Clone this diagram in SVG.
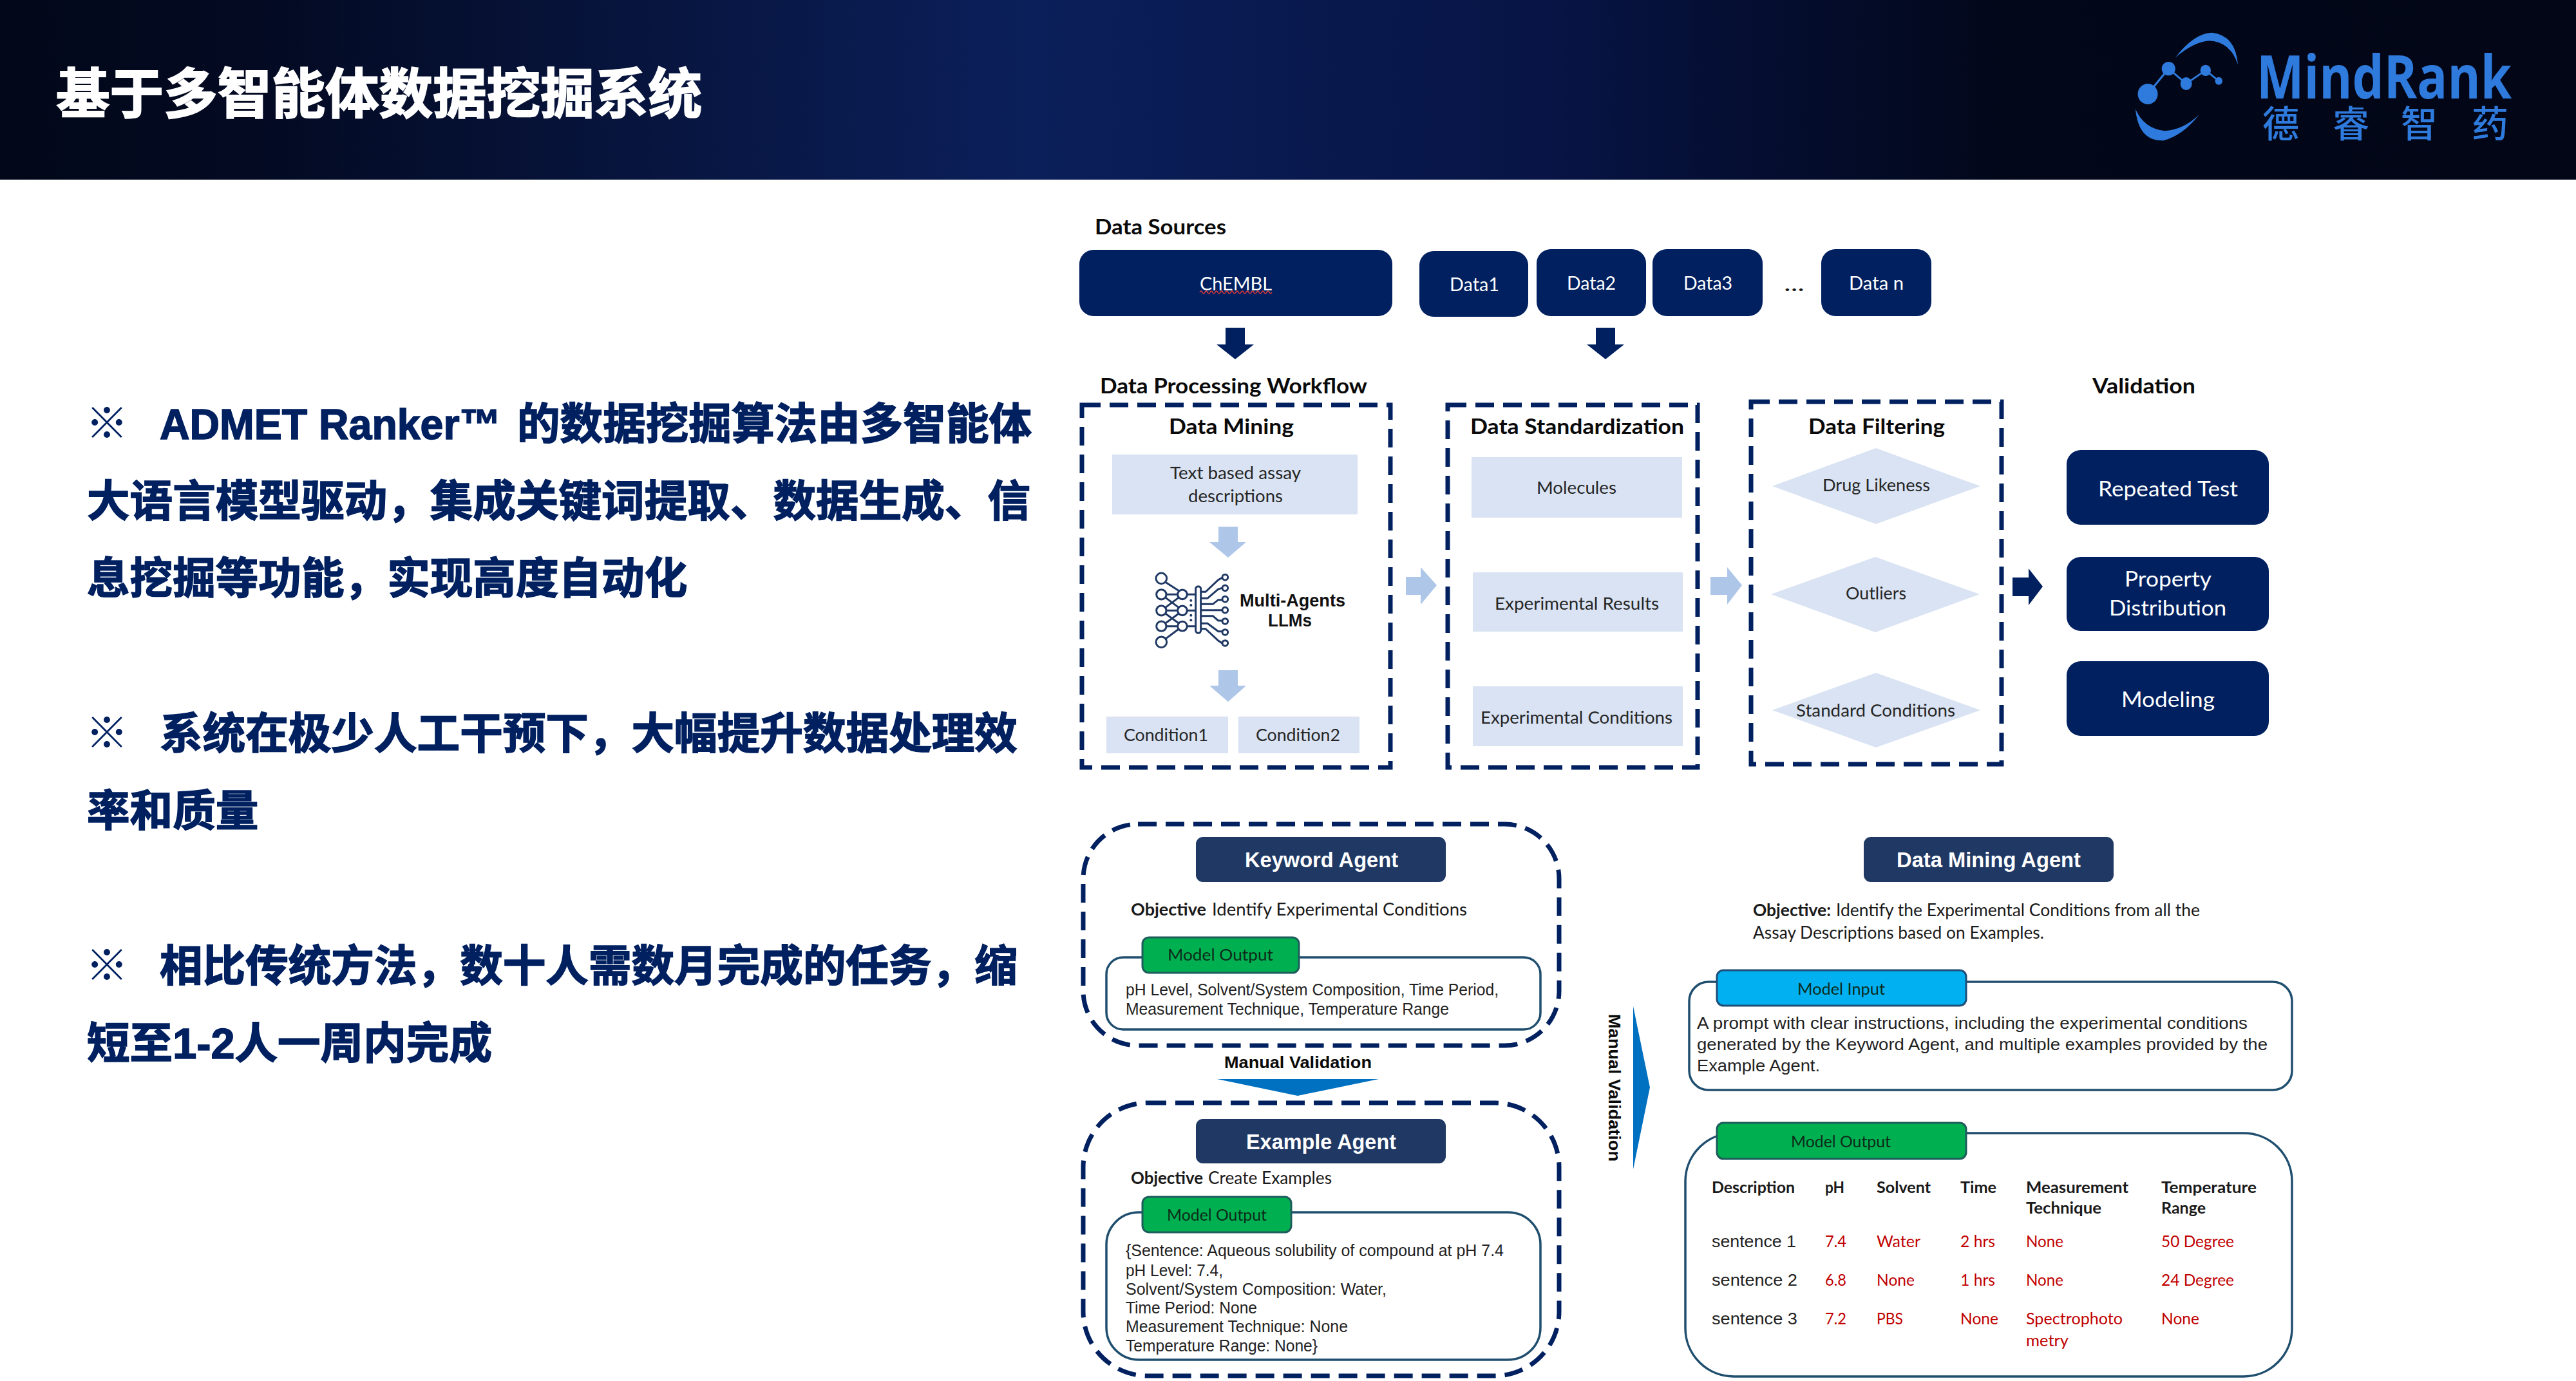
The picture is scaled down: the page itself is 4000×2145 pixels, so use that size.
<svg xmlns="http://www.w3.org/2000/svg" width="4000" height="2145" viewBox="0 0 4000 2145">
<defs>
<linearGradient id="hdr" x1="0" y1="0" x2="1" y2="0">
<stop offset="0" stop-color="#020819"/><stop offset="0.1" stop-color="#030a22"/><stop offset="0.4" stop-color="#0b1f5a"/><stop offset="0.6" stop-color="#071445"/><stop offset="0.78" stop-color="#020719"/><stop offset="1" stop-color="#020617"/>
</linearGradient>
<style>
text{white-space:pre}
.la{font-family:"Lato","Liberation Sans",sans-serif}
.ar{font-family:"Liberation Sans",sans-serif}
.cjk{font-family:"Liberation Sans","Noto Sans CJK SC",sans-serif}
.b{font-weight:700}
.hd{font-size:32px;font-weight:700;fill:#0a0a0a}
.lab{font-size:26.5px;fill:#262626}
.wh{font-size:28px;fill:#fff}
.wh2{font-size:32px;fill:#fff}
.navy{fill:#002060}
.light{fill:#D9E3F3}
.larrow{fill:#AEC6E8}
.darrow{fill:#002060}
.blue{fill:#0070C0}
.dash{fill:none;stroke:#002060;stroke-width:7;stroke-dasharray:29 14}
.agent{fill:#1F3864}
.agt{font-size:32.5px;font-weight:700;fill:#fff}
.obj{font-size:26px;fill:#1a1a1a}
.green{fill:#00B050;stroke:#1F5C5C;stroke-width:3}
.cyan{fill:#00B0F0;stroke:#1F4E79;stroke-width:3}
.mo{font-size:25px;fill:#0d2b1a}
.panel{fill:#fff;stroke:#1F4E6E;stroke-width:3.5}
.body{font-size:25px;fill:#222}
.th{font-size:24px;font-weight:700;fill:#1a1a1a}
.td{font-size:25px;fill:#222}
.red{font-size:25px;fill:#C00000}
.main{font-size:66.6px;font-weight:700;fill:#002060;stroke:#002060;stroke-width:1.6}
.mark{font-size:66px;fill:#002060;font-family:"Noto Sans CJK SC",sans-serif}
.logo{fill:#2F7BDD}
.ic{fill:none;stroke:#1F3864;stroke-width:9}
</style>
</defs>
<rect width="4000" height="2145" fill="#fff"/>
<g id="header">
<rect width="4000" height="279" fill="url(#hdr)"/>
<text class="cjk" x="87" y="176" font-size="83.6" font-weight="700" fill="#fff" stroke="#fff" stroke-width="2">基于多智能体数据挖掘系统</text>
</g>
<g id="logo">
<g transform="translate(3280,30) scale(0.408,0.3333)">
<path class="logo" d="M240,178 Q310,65 380,62 Q470,75 478,212 Q450,105 370,100 Q310,105 240,178Z"/>
<path class="logo" d="M88,418 Q120,510 200,520 Q270,515 330,445 Q270,540 195,565 Q100,570 88,418Z"/>
<path d="M135,348L214,230L281,300L355,238L405,287" fill="none" stroke="#2F7BDD" stroke-width="8"/>
<ellipse class="logo" cx="135" cy="348" rx="38" ry="48"/>
<ellipse class="logo" cx="214" cy="230" rx="26" ry="32"/>
<ellipse class="logo" cx="281" cy="300" rx="22" ry="30"/>
<ellipse class="logo" cx="355" cy="238" rx="20" ry="26"/>
<ellipse class="logo" cx="405" cy="287" rx="14" ry="18"/>
</g>
<text x="3504" y="153" font-family="Open Sans,sans-serif" font-size="94" font-weight="700" class="logo" textLength="396" lengthAdjust="spacingAndGlyphs">MindRank</text>
<text x="3513 3622 3728 3838" y="213" font-family="Noto Sans CJK SC,sans-serif" font-size="57" font-weight="500" class="logo">德睿智药</text>
</g>
<g id="bullets">
<text class="mark" x="133" y="681">※</text>
<text class="ar main" x="248" y="682" font-size="66" stroke-width="0.8" textLength="530" lengthAdjust="spacingAndGlyphs">ADMET Ranker™</text>
<text class="cjk main" x="803" y="682">的数据挖掘算法由多智能体</text>
<text class="cjk main" x="135" y="802">大语言模型驱动，集成关键词提取、数据生成、信</text>
<text class="cjk main" x="135" y="922">息挖掘等功能，实现高度自动化</text>
<text class="mark" x="133" y="1162">※</text>
<text class="cjk main" x="248" y="1163">系统在极少人工干预下，大幅提升数据处理效</text>
<text class="cjk main" x="135" y="1283">率和质量</text>
<text class="mark" x="133" y="1523">※</text>
<text class="cjk main" x="248" y="1524">相比传统方法，数十人需数月完成的任务，缩</text>
<text class="cjk main" x="135" y="1644">短至1-2人一周内完成</text>
</g>
<g id="connectors">
<polygon class="darrow" points="1903,509 1933,509 1933,535 1947,535 1918,558 1889,535 1903,535"/>
<polygon class="darrow" points="2478,509 2508,509 2508,535 2522,535 2493,558 2464,535 2478,535"/>
<polygon class="larrow" points="1892,818 1922,818 1922,842 1935,842 1907,866 1878,842 1892,842"/>
<polygon class="larrow" points="1892,1041 1922,1041 1922,1065 1935,1065 1907,1090 1878,1065 1892,1065"/>
<polygon class="larrow" points="2183,896 2206,896 2206,881 2231,909 2206,939 2206,924 2183,924"/>
<polygon class="larrow" points="2656,896 2682,896 2682,881 2705,909 2682,939 2682,924 2656,924"/>
<polygon class="darrow" points="3125,897 3150,897 3150,883 3172,911 3150,940 3150,926 3125,926"/>
<polygon class="blue" points="1890,1676 2141,1676 2015,1702"/>
<polygon class="blue" points="2536,1563 2562,1689 2536,1816"/>
</g>
<g id="data-sources">
<text class="la hd" x="1700" y="364" textLength="204" lengthAdjust="spacingAndGlyphs">Data Sources</text>
<g id="chembl"><rect class="navy" x="1676" y="388" width="486" height="103" rx="22"/><text class="la wh" x="1863" y="451" textLength="112" lengthAdjust="spacingAndGlyphs">ChEMBL</text><path d="M1863 454q2 -4 4 0t4 0t4 0t4 0t4 0t4 0t4 0t4 0t4 0t4 0t4 0t4 0t4 0t4 0t4 0t4 0t4 0t4 0t4 0t4 0t4 0t4 0t4 0t4 0t4 0t4 0t4 0t4 0" stroke="#E03A3A" stroke-width="1.6" fill="none"/></g>
<g id="data1"><rect class="navy" x="2204" y="390" width="169" height="102" rx="22"/><text class="la wh" x="2251" y="452" textLength="77" lengthAdjust="spacingAndGlyphs">Data1</text></g>
<g id="data2"><rect class="navy" x="2386" y="387" width="170" height="104" rx="22"/><text class="la wh" x="2433" y="450" textLength="76" lengthAdjust="spacingAndGlyphs">Data2</text></g>
<g id="data3"><rect class="navy" x="2566" y="387" width="171" height="104" rx="22"/><text class="la wh" x="2614" y="450" textLength="76" lengthAdjust="spacingAndGlyphs">Data3</text></g>
<text class="la" x="2770" y="452" font-size="30" fill="#1a1a1a" textLength="32" lengthAdjust="spacingAndGlyphs">...</text>
<g id="datan"><rect class="navy" x="2828" y="387" width="171" height="104" rx="22"/><text class="la wh" x="2871" y="450" textLength="85" lengthAdjust="spacingAndGlyphs">Data n</text></g>
</g>
<g id="data-mining">
<text class="la hd" x="1708" y="611" textLength="415" lengthAdjust="spacingAndGlyphs">Data Processing Workflow</text>
<rect class="dash" x="1680" y="629" width="479" height="563"/>
<text class="la hd" x="1815" y="674" textLength="194" lengthAdjust="spacingAndGlyphs">Data Mining</text>
<rect class="light" x="1727" y="706" width="381" height="93"/>
<text class="la lab" x="1817" y="744" textLength="203" lengthAdjust="spacingAndGlyphs">Text based assay</text>
<text class="la lab" x="1845" y="780" textLength="147" lengthAdjust="spacingAndGlyphs">descriptions</text>
<g id="llm-icon" transform="translate(1760,860) scale(0.3333)">
<g class="ic">
<circle cx="130" cy="115" r="25"/><circle cx="130" cy="190" r="23"/><circle cx="130" cy="265" r="23"/><circle cx="130" cy="338" r="23"/><circle cx="130" cy="412" r="25"/>
<circle cx="228" cy="190" r="22"/><circle cx="228" cy="265" r="22"/><circle cx="228" cy="338" r="22"/>
<rect x="290" y="152" width="24" height="218" rx="12"/>
<path d="M148,132L210,172M153,190H206M150,205L210,250M150,250L210,205M153,265H206M150,280L210,323M150,323L210,280M153,338H206M148,398L210,352M250,190H290M250,265H290M250,338H290"/>
<path d="M318,178H336L395,122L413,112M318,208H345L395,165L413,160M318,235H370L395,215H413M318,263H413M318,290H370L395,312H413M318,325H345L395,362H413M318,350H336L395,405L413,417"/>
<circle cx="427" cy="110" r="13"/><circle cx="427" cy="160" r="13"/><circle cx="427" cy="212" r="13"/><circle cx="427" cy="263" r="13"/><circle cx="427" cy="315" r="13"/><circle cx="427" cy="366" r="13"/><circle cx="427" cy="417" r="13"/>
</g>
<g fill="#1F3864"><circle cx="268" cy="218" r="6"/><circle cx="268" cy="240" r="6"/><circle cx="268" cy="287" r="6"/><circle cx="268" cy="310" r="6"/></g>
</g>
<text class="ar b" x="1925" y="942" font-size="27" fill="#111" textLength="164" lengthAdjust="spacingAndGlyphs">Multi-Agents</text>
<text class="ar b" x="1969" y="973" font-size="27" fill="#111" textLength="68" lengthAdjust="spacingAndGlyphs">LLMs</text>
<g id="cond1"><rect class="light" x="1718" y="1113" width="189" height="57"/><text class="la lab" x="1745" y="1151" textLength="131" lengthAdjust="spacingAndGlyphs">Condition1</text></g>
<g id="cond2"><rect class="light" x="1923" y="1113" width="188" height="57"/><text class="la lab" x="1950" y="1151" textLength="131" lengthAdjust="spacingAndGlyphs">Condition2</text></g>
</g>
<g id="data-standardization">
<rect class="dash" x="2248" y="629" width="388" height="563"/>
<text class="la hd" x="2283" y="674" textLength="332" lengthAdjust="spacingAndGlyphs">Data Standardization</text>
<rect class="light" x="2285" y="710" width="327" height="94"/>
<text class="la lab" x="2386" y="767" textLength="124" lengthAdjust="spacingAndGlyphs">Molecules</text>
<rect class="light" x="2287" y="889" width="326" height="92"/>
<text class="la lab" x="2321" y="947" textLength="255" lengthAdjust="spacingAndGlyphs">Experimental Results</text>
<rect class="light" x="2287" y="1066" width="326" height="93"/>
<text class="la lab" x="2299" y="1124" textLength="298" lengthAdjust="spacingAndGlyphs">Experimental Conditions</text>
</g>
<g id="data-filtering">
<rect class="dash" x="2719" y="624" width="389" height="563"/>
<text class="la hd" x="2808" y="674" textLength="212" lengthAdjust="spacingAndGlyphs">Data Filtering</text>
<polygon class="light" points="2752,755 2913,696 3075,755 2913,814"/>
<text class="la lab" x="2830" y="763" textLength="167" lengthAdjust="spacingAndGlyphs">Drug Likeness</text>
<polygon class="light" points="2750,923 2912,865 3074,923 2912,982"/>
<text class="la lab" x="2866" y="931" textLength="94" lengthAdjust="spacingAndGlyphs">Outliers</text>
<polygon class="light" points="2752,1103 2913,1045 3075,1103 2913,1161"/>
<text class="la lab" x="2789" y="1113" textLength="247" lengthAdjust="spacingAndGlyphs">Standard Conditions</text>
</g>
<g id="validation">
<text class="la hd" x="3249" y="611" textLength="160" lengthAdjust="spacingAndGlyphs">Validation</text>
<g id="repeated"><rect class="navy" x="3209" y="699" width="314" height="116" rx="22"/><text class="la wh2" x="3258" y="771" textLength="217" lengthAdjust="spacingAndGlyphs">Repeated Test</text></g>
<g id="property"><rect class="navy" x="3209" y="865" width="314" height="115" rx="22"/><text class="la wh2" x="3299" y="911" textLength="135" lengthAdjust="spacingAndGlyphs">Property</text><text class="la wh2" x="3275" y="956" textLength="182" lengthAdjust="spacingAndGlyphs">Distribution</text></g>
<g id="modeling"><rect class="navy" x="3209" y="1027" width="314" height="116" rx="22"/><text class="la wh2" x="3294" y="1098" textLength="145" lengthAdjust="spacingAndGlyphs">Modeling</text></g>
</g>
<g id="keyword-agent">
<rect class="dash" x="1682" y="1280" width="739" height="344" rx="85"/>
<rect class="agent" x="1857" y="1300" width="388" height="70" rx="11"/>
<text class="ar agt" x="1933" y="1347" textLength="238" lengthAdjust="spacingAndGlyphs">Keyword Agent</text>
<text class="la obj b" x="1756" y="1422" textLength="117" lengthAdjust="spacingAndGlyphs">Objective</text>
<text class="la obj" x="1882" y="1422" textLength="396" lengthAdjust="spacingAndGlyphs">Identify Experimental Conditions</text>
<rect class="panel" x="1718" y="1487" width="674" height="112" rx="26"/>
<rect class="green" x="1774" y="1456" width="243" height="55" rx="10"/>
<text class="la mo" x="1813" y="1492" textLength="164" lengthAdjust="spacingAndGlyphs">Model Output</text>
<text class="ar body" x="1748" y="1546" textLength="579" lengthAdjust="spacingAndGlyphs">pH Level, Solvent/System Composition, Time Period,</text>
<text class="ar body" x="1748" y="1576" textLength="502" lengthAdjust="spacingAndGlyphs">Measurement Technique, Temperature Range</text>
</g>
<text class="ar b" x="1901" y="1659" font-size="26.5" fill="#0a0a0a" textLength="229" lengthAdjust="spacingAndGlyphs">Manual Validation</text>
<g id="example-agent">
<rect class="dash" x="1682" y="1713" width="739" height="424" rx="100"/>
<rect class="agent" x="1857" y="1738" width="388" height="69" rx="11"/>
<text class="ar agt" x="1935" y="1785" textLength="233" lengthAdjust="spacingAndGlyphs">Example Agent</text>
<text class="la obj b" x="1756" y="1839" textLength="112" lengthAdjust="spacingAndGlyphs">Objective</text>
<text class="la obj" x="1876" y="1839" textLength="192" lengthAdjust="spacingAndGlyphs">Create Examples</text>
<rect class="panel" x="1718" y="1883" width="674" height="229" rx="50"/>
<rect class="green" x="1774" y="1859" width="231" height="55" rx="10"/>
<text class="la mo" x="1812" y="1896" textLength="155" lengthAdjust="spacingAndGlyphs">Model Output</text>
<text class="ar body" x="1748" y="1951" textLength="587" lengthAdjust="spacingAndGlyphs">{Sentence: Aqueous solubility of compound at pH 7.4</text>
<text class="ar body" x="1748" y="1982" textLength="151" lengthAdjust="spacingAndGlyphs">pH Level: 7.4,</text>
<text class="ar body" x="1748" y="2011" textLength="405" lengthAdjust="spacingAndGlyphs">Solvent/System Composition: Water,</text>
<text class="ar body" x="1748" y="2040" textLength="204" lengthAdjust="spacingAndGlyphs">Time Period: None</text>
<text class="ar body" x="1748" y="2069" textLength="345" lengthAdjust="spacingAndGlyphs">Measurement Technique: None</text>
<text class="ar body" x="1748" y="2099" textLength="298" lengthAdjust="spacingAndGlyphs">Temperature Range: None}</text>
</g>
<text class="ar b" transform="translate(2498,1575) rotate(90)" font-size="26.5" fill="#0a0a0a" textLength="229" lengthAdjust="spacingAndGlyphs">Manual Validation</text>
<g id="data-mining-agent">
<rect class="agent" x="2894" y="1300" width="388" height="70" rx="11"/>
<text class="ar agt" x="2945" y="1347" textLength="286" lengthAdjust="spacingAndGlyphs">Data Mining Agent</text>
<text class="la obj b" x="2722" y="1423" textLength="121" lengthAdjust="spacingAndGlyphs">Objective:</text>
<text class="la obj" x="2851" y="1423" textLength="565" lengthAdjust="spacingAndGlyphs">Identify the Experimental Conditions from all the</text>
<text class="la obj" x="2722" y="1458" textLength="452" lengthAdjust="spacingAndGlyphs">Assay Descriptions based on Examples.</text>
<rect class="panel" x="2623" y="1525" width="936" height="168" rx="30"/>
<rect class="cyan" x="2666" y="1507" width="387" height="55" rx="10"/>
<text class="la mo" x="2791" y="1545" textLength="136" lengthAdjust="spacingAndGlyphs">Model Input</text>
<text class="ar body" x="2635" y="1598" textLength="855" lengthAdjust="spacingAndGlyphs">A prompt with clear instructions, including the experimental conditions</text>
<text class="ar body" x="2635" y="1631" textLength="886" lengthAdjust="spacingAndGlyphs">generated by the Keyword Agent, and multiple examples provided by the</text>
<text class="ar body" x="2635" y="1664" textLength="191" lengthAdjust="spacingAndGlyphs">Example Agent.</text>
<rect class="panel" x="2617" y="1760" width="942" height="378" rx="75"/>
<rect class="green" x="2666" y="1744" width="387" height="56" rx="10"/>
<text class="la mo" x="2781" y="1782" textLength="155" lengthAdjust="spacingAndGlyphs">Model Output</text>
<g id="result-table">
<text class="la th" x="2658" y="1853" textLength="129" lengthAdjust="spacingAndGlyphs">Description</text>
<text class="la th" x="2834" y="1853" textLength="30" lengthAdjust="spacingAndGlyphs">pH</text>
<text class="la th" x="2914" y="1853" textLength="84" lengthAdjust="spacingAndGlyphs">Solvent</text>
<text class="la th" x="3044" y="1853" textLength="56" lengthAdjust="spacingAndGlyphs">Time</text>
<text class="la th" x="3146" y="1853" textLength="159" lengthAdjust="spacingAndGlyphs">Measurement</text>
<text class="la th" x="3146" y="1885" textLength="117" lengthAdjust="spacingAndGlyphs">Technique</text>
<text class="la th" x="3356" y="1853" textLength="148" lengthAdjust="spacingAndGlyphs">Temperature</text>
<text class="la th" x="3356" y="1885" textLength="69" lengthAdjust="spacingAndGlyphs">Range</text>
<text class="ar td" x="2658" y="1937" textLength="131" lengthAdjust="spacingAndGlyphs">sentence 1</text>
<text class="la red" x="2834" y="1937" textLength="33" lengthAdjust="spacingAndGlyphs">7.4</text>
<text class="la red" x="2914" y="1937" textLength="68" lengthAdjust="spacingAndGlyphs">Water</text>
<text class="la red" x="3044" y="1937" textLength="54" lengthAdjust="spacingAndGlyphs">2 hrs</text>
<text class="la red" x="3146" y="1937" textLength="58" lengthAdjust="spacingAndGlyphs">None</text>
<text class="la red" x="3356" y="1937" textLength="113" lengthAdjust="spacingAndGlyphs">50 Degree</text>
<text class="ar td" x="2658" y="1997" textLength="133" lengthAdjust="spacingAndGlyphs">sentence 2</text>
<text class="la red" x="2834" y="1997" textLength="33" lengthAdjust="spacingAndGlyphs">6.8</text>
<text class="la red" x="2914" y="1997" textLength="59" lengthAdjust="spacingAndGlyphs">None</text>
<text class="la red" x="3044" y="1997" textLength="54" lengthAdjust="spacingAndGlyphs">1 hrs</text>
<text class="la red" x="3146" y="1997" textLength="58" lengthAdjust="spacingAndGlyphs">None</text>
<text class="la red" x="3356" y="1997" textLength="113" lengthAdjust="spacingAndGlyphs">24 Degree</text>
<text class="ar td" x="2658" y="2057" textLength="133" lengthAdjust="spacingAndGlyphs">sentence 3</text>
<text class="la red" x="2834" y="2057" textLength="33" lengthAdjust="spacingAndGlyphs">7.2</text>
<text class="la red" x="2914" y="2057" textLength="41" lengthAdjust="spacingAndGlyphs">PBS</text>
<text class="la red" x="3044" y="2057" textLength="59" lengthAdjust="spacingAndGlyphs">None</text>
<text class="la red" x="3146" y="2057" textLength="150" lengthAdjust="spacingAndGlyphs">Spectrophoto</text>
<text class="la red" x="3146" y="2091" textLength="66" lengthAdjust="spacingAndGlyphs">metry</text>
<text class="la red" x="3356" y="2057" textLength="59" lengthAdjust="spacingAndGlyphs">None</text>
</g>
</g>
</svg>
